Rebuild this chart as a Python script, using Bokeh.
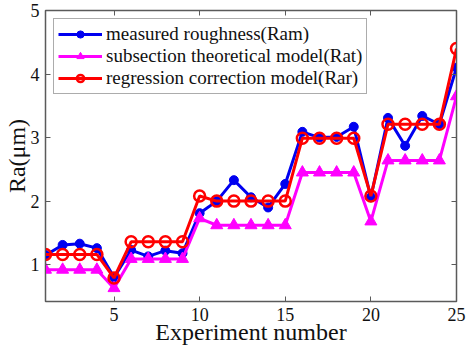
from bokeh.plotting import figure
from bokeh.models import LinearAxis, Range1d, Legend, LegendItem, FixedTicker
from bokeh.embed import file_html
from bokeh.resources import INLINE

experiments = list(range(1, 26))
ram = [1.15, 1.31, 1.33, 1.26, 0.80, 1.23, 1.13, 1.22, 1.18,
       1.81, 2.00, 2.33, 2.06, 1.90, 2.27,
       3.09, 3.00, 3.01, 3.17, 2.06,
       3.31, 2.87, 3.34, 3.21, 4.10]
rat = [0.92, 0.92, 0.92, 0.92, 0.63,
       1.09, 1.09, 1.09, 1.09,
       1.73, 1.62, 1.62, 1.62, 1.62, 1.62,
       2.45, 2.45, 2.45, 2.45, 1.68,
       2.64, 2.64, 2.64, 2.64, 3.65]
rar = [1.16, 1.16, 1.16, 1.16, 0.79,
       1.36, 1.36, 1.36, 1.36,
       2.08, 2.00, 2.00, 2.00, 2.00, 2.00,
       2.99, 2.99, 2.99, 2.99, 2.08,
       3.21, 3.21, 3.21, 3.21, 4.40]
x_ticks = [5, 10, 15, 20, 25]
y_ticks = [1, 2, 3, 4, 5]

FONT = "Liberation Serif"
AX = "#5a5a5a"

p = figure(width=466, height=347, output_backend="svg", toolbar_location=None,
           x_range=Range1d(1, 25), y_range=Range1d(0.42, 5.0),
           min_border_left=0, min_border_right=10, min_border_top=10, min_border_bottom=0)
p.grid.visible = False
p.outline_line_color = AX
p.outline_line_width = 1.5

BLUE = "#0000f0"
MAG = "#ff00ff"
RED = "#ff0000"

l1 = p.line(experiments, ram, line_color=BLUE, line_width=3)
s1 = p.scatter(experiments, ram, marker="circle", size=9, fill_color=BLUE, line_color=BLUE)
l2 = p.line(experiments, rat, line_color=MAG, line_width=3)
s2 = p.scatter(experiments, rat, marker="triangle", size=12, fill_color=MAG, line_color=MAG)
l3 = p.line(experiments, rar, line_color=RED, line_width=3)
s3 = p.scatter(experiments, rar, marker="circle", size=11, fill_color=None, line_color=RED, line_width=2.5)

for ax in (p.xaxis[0], p.yaxis[0]):
    ax.axis_line_color = AX
    ax.major_tick_line_color = AX
    ax.major_tick_in = 5
    ax.major_tick_out = 0
    ax.minor_tick_line_color = None
    ax.major_label_text_font = FONT
    ax.major_label_text_font_size = "18px"
    ax.major_label_text_color = "#111111"
    ax.axis_label_text_font = FONT
    ax.axis_label_text_font_size = "24px"
    ax.axis_label_text_font_style = "normal"
    ax.axis_label_text_color = "#111111"

p.xaxis[0].ticker = FixedTicker(ticks=x_ticks)
p.yaxis[0].ticker = FixedTicker(ticks=y_ticks)
p.xaxis[0].axis_label = "Experiment number"
p.yaxis[0].axis_label = "Ra(μm)"
p.xaxis[0].major_label_standoff = 6
p.xaxis[0].axis_label_standoff = -5
p.yaxis[0].major_label_standoff = 6
p.yaxis[0].axis_label_standoff = -2

for loc, ticks in (("right", y_ticks), ("above", x_ticks)):
    a = LinearAxis(ticker=FixedTicker(ticks=ticks))
    a.axis_line_color = AX
    a.major_tick_line_color = AX
    a.major_tick_in = 5
    a.major_tick_out = 0
    a.minor_tick_line_color = None
    a.major_label_text_font_size = "2px"
    a.major_label_text_color = None
    a.major_label_standoff = 0
    p.add_layout(a, loc)

legend = Legend(items=[
    LegendItem(label="measured roughness(Ram)", renderers=[l1, s1]),
    LegendItem(label="subsection theoretical model(Rat)", renderers=[l2, s2]),
    LegendItem(label="regression correction model(Rar)", renderers=[l3, s3]),
], location="top_left")
legend.label_text_font = FONT
legend.label_text_font_size = "19px"
legend.label_text_color = "#111111"
legend.border_line_color = AX
legend.border_line_width = 1.5
legend.glyph_width = 44
legend.glyph_height = 18
legend.label_standoff = 4
legend.spacing = 0
legend.padding = 4
legend.margin = 8
legend.label_height = 20
p.add_layout(legend)

open("out.html", "w").write(file_html(p, INLINE))
